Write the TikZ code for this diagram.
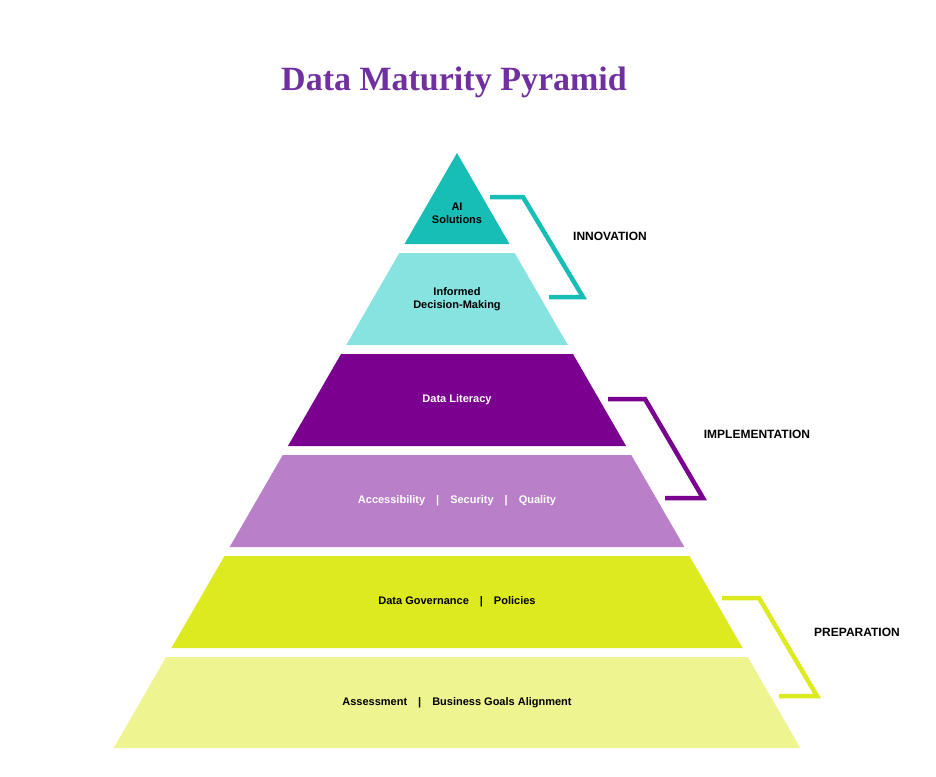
\documentclass[tikz,border=0pt]{standalone}
\usepackage{fontspec}
\setmainfont{Liberation Sans}
\newfontfamily\titlefont{Liberation Serif}
\definecolor{tealA}{HTML}{17BEB6}
\definecolor{tealB}{HTML}{86E3DF}
\definecolor{purA}{HTML}{7A008F}
\definecolor{purB}{HTML}{B97FC9}
\definecolor{limA}{HTML}{DEEA20}
\definecolor{limB}{HTML}{EEF48F}
\definecolor{titlec}{HTML}{7030A0}
\begin{document}
\begin{tikzpicture}[x=1pt,y=-1pt,
  lbl/.style={font=\bfseries\fontsize{11}{13}\selectfont, align=center, inner sep=0},
  phase/.style={font=\bfseries\fontsize{12}{14}\selectfont, inner sep=0},
  brk/.style={line width=4.5pt, line join=miter}]
\useasboundingbox (0,0) rectangle (936,776);
\node[font=\titlefont\bfseries\fontsize{34}{40}\selectfont, text=titlec] (title) at (454,82) {Data Maturity Pyramid};
% half-width = 0.577*(y-153)
\def\cx{457}
\newcommand{\lay}[4]{% top y, bottom y, color, name
  \pgfmathsetmacro{\ta}{\cx-0.577*(#1-153)}\pgfmathsetmacro{\tb}{\cx+0.577*(#1-153)}
  \pgfmathsetmacro{\ba}{\cx-0.577*(#2-153)}\pgfmathsetmacro{\bb}{\cx+0.577*(#2-153)}
  \fill[#3] (\ta,#1) -- (\tb,#1) -- (\bb,#2) -- (\ba,#2) -- cycle;
  \coordinate (#4) at (\cx,{(#1+#2)/2});}
\lay{153}{244}{tealA}{L1}
\lay{253}{345}{tealB}{L2}
\lay{354}{446}{purA}{L3}
\lay{455}{547}{purB}{L4}
\lay{556}{648}{limA}{L5}
\lay{657}{748}{limB}{L6}
\node[lbl] (t1) at (457,213) {AI\\Solutions};
\node[lbl] (t2) at (L2) {Informed\\Decision-Making};
\node[lbl,text=white] (t3) at (L3) {Data Literacy};
\node[lbl,text=white] (t4) at (L4) {Accessibility\quad|\quad Security\quad|\quad Quality};
\node[lbl] (t5) at (L5) {Data Governance\quad|\quad Policies};
\node[lbl] (t6) at (L6) {Assessment\quad|\quad Business Goals Alignment};
\draw[brk,tealA] (490,197) -- (523,197) -- (583,297) -- (549,297);
\draw[brk,purA] (608,399) -- (645,399) -- (703,498) -- (665,498);
\draw[brk,limA] (722,598) -- (759,598) -- (817,696) -- (779,696);
\node[phase] (p1) at (610,236) {INNOVATION};
\node[phase] (p2) at (757,434) {IMPLEMENTATION};
\node[phase] (p3) at (857,632) {PREPARATION};
\end{tikzpicture}
\end{document}
